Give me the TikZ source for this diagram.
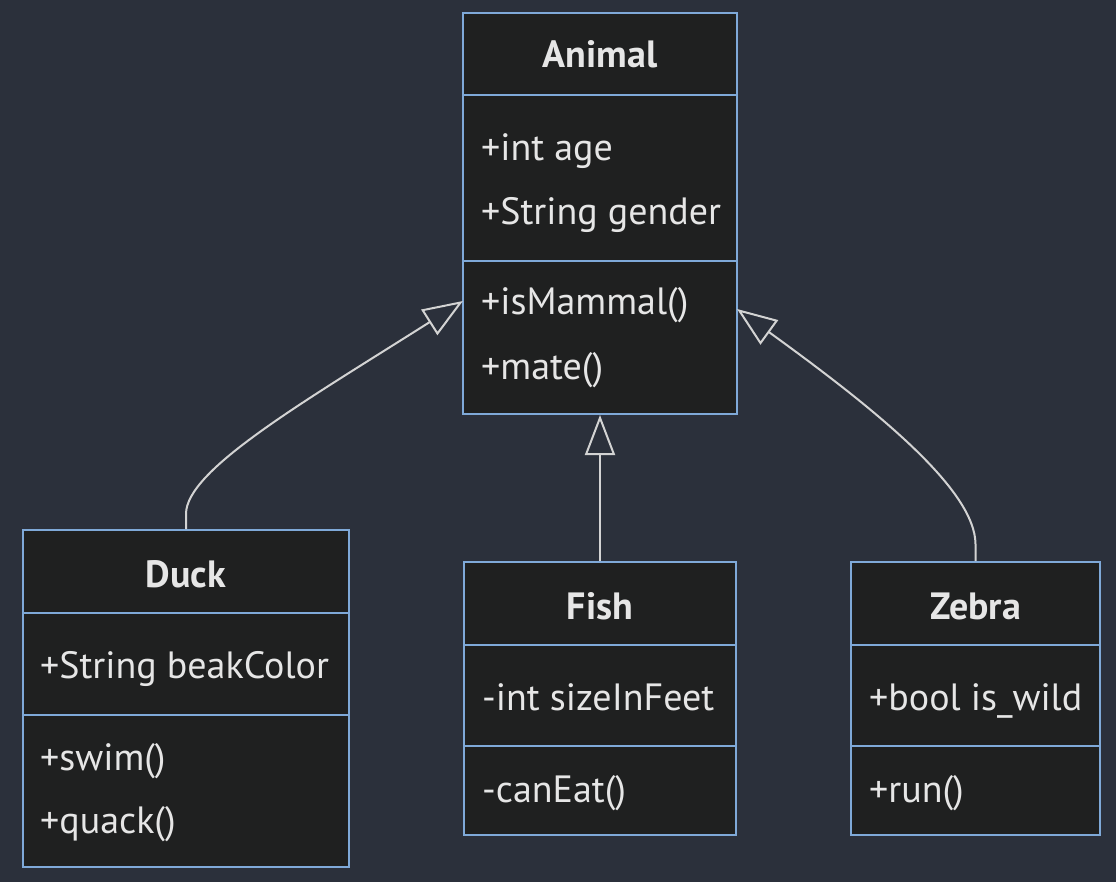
\documentclass[tikz,border=0pt]{standalone}
\usepackage{fontspec}
\setmainfont{PT Sans}
\usetikzlibrary{arrows.meta}
\definecolor{bg}{HTML}{2B303B}
\definecolor{boxfill}{HTML}{1F2020}
\definecolor{boxline}{HTML}{7FA9D8}
\definecolor{edge}{HTML}{D3D3D3}
\definecolor{txt}{HTML}{E6E6E6}
\begin{document}
\begin{tikzpicture}[x=1pt,y=-1pt,
  cls/.style={draw=boxline, fill=boxfill, line width=2pt, inner sep=0pt, rectangle},
  member/.style={anchor=base west, text=txt, font=\fontsize{38}{44}\selectfont, inner sep=0pt},
  title/.style={anchor=base, text=txt, font=\fontsize{38}{44}\selectfont\bfseries, inner sep=0pt},
  sepline/.style={draw=boxline, line width=2pt},
  inh/.style={draw=edge, line width=2pt, -{Triangle[open,length=40pt,width=30pt]}}]
\fill[bg] (0,0) rectangle (1116,882);
\useasboundingbox (0,0) rectangle (1116,882);
% classes
\node[cls, minimum width=274pt, minimum height=401pt] (animal) at (600,213.5) {};
\node[cls, minimum width=326pt, minimum height=337pt] (duck) at (186,698.5) {};
\node[cls, minimum width=272pt, minimum height=273pt] (fish) at (600,698.5) {};
\node[cls, minimum width=249pt, minimum height=273pt] (zebra) at (975.5,698.5) {};
% separators
\draw[sepline] (animal.west |- 0,95) -- (animal.east |- 0,95);
\draw[sepline] (animal.west |- 0,261) -- (animal.east |- 0,261);
\draw[sepline] (duck.west |- 0,613) -- (duck.east |- 0,613);
\draw[sepline] (duck.west |- 0,715) -- (duck.east |- 0,715);
\draw[sepline] (fish.west |- 0,645) -- (fish.east |- 0,645);
\draw[sepline] (fish.west |- 0,746) -- (fish.east |- 0,746);
\draw[sepline] (zebra.west |- 0,645) -- (zebra.east |- 0,645);
\draw[sepline] (zebra.west |- 0,746) -- (zebra.east |- 0,746);
% texts
\node[title] (animalT) at (600,68) {Animal};
\node[member] (a1) at (481,161) {+int age};
\node[member] (a2) at (481,225) {+String gender};
\node[member] (a3) at (481,315) {+isMammal()};
\node[member] (a4) at (481,380) {+mate()};
\node[title] (duckT) at (186,587) {Duck};
\node[member] (d1) at (40,678) {+String beakColor};
\node[member] (d2) at (40,770) {+swim()};
\node[member] (d3) at (40,833) {+quack()};
\node[title] (fishT) at (600,619) {Fish};
\node[member] (f1) at (482,710) {-int sizeInFeet};
\node[member] (f2) at (482,802) {-canEat()};
\node[title] (zebraT) at (975.5,619) {Zebra};
\node[member] (z1) at (869,710) {+bool is\_wild};
\node[member] (z2) at (869,802) {+run()};
% connectors
\coordinate (aL) at (463,301);
\coordinate (aR) at (737,309);
\draw[inh] (duck.north) -- ++(0,-15) .. controls (186,470) and (302,403) .. (aL);
\draw[inh] (fish.north) -- (animal.south);
\draw[inh] (zebra.north) -- ++(0,-17) .. controls (975,490) and (878,411) .. (aR);
\end{tikzpicture}
\end{document}
